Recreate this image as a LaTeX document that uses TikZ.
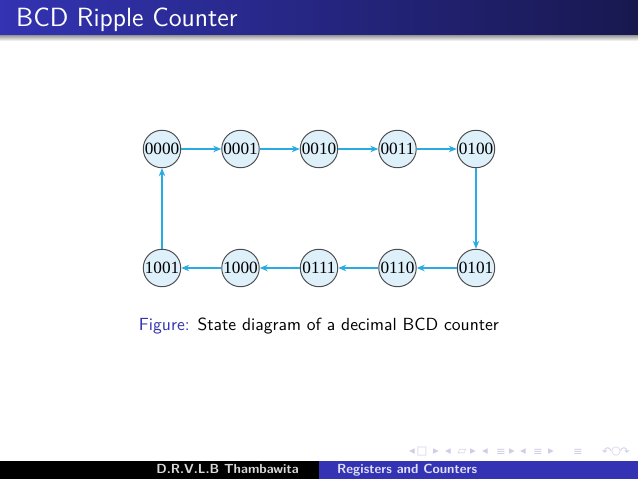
\documentclass[tikz,border=0pt]{standalone}
\usepackage{fontspec}
\newfontfamily\statefont{Liberation Serif}
\newfontfamily\symfont{DejaVu Sans}
\usetikzlibrary{positioning,arrows.meta}
\definecolor{beamerblue}{RGB}{51,51,179}
\definecolor{titledark}{RGB}{24,24,80}
\definecolor{statefill}{RGB}{222,240,250}
\definecolor{arrowblue}{RGB}{41,171,226}
\definecolor{navgray}{RGB}{205,205,230}
\begin{document}
\begin{tikzpicture}[x=0.2mm, y=-0.2mm, node distance=15.7mm,
  bcdstate/.style={circle, draw=black!70, fill=statefill, line width=0.55pt, minimum size=7.5mm, inner sep=0pt, font=\statefont\fontsize{9.8}{10}\selectfont},
  link/.style={draw=arrowblue, line width=0.6pt, -{Stealth[length=1.6mm, width=1.3mm]}},
  navsym/.style={text=navgray, inner sep=0pt, font=\symfont\fontsize{6.5}{7}\selectfont}]
\useasboundingbox (0,0) rectangle (638,479);

% Titelleiste
\shade[left color=beamerblue, right color=titledark] (0,0) rectangle (638,36);
\shade[top color=black!35, bottom color=white] (0,36) rectangle (638,41);
\node (title) [anchor=base west, text=white, font=\sffamily\fontsize{15}{18}\selectfont] at (10,27) {BCD Ripple Counter};

% Zustaende
\node (s0) [bcdstate] at (162,149) {0000};
\node (s1) [bcdstate, right of=s0] {0001};
\node (s2) [bcdstate, right of=s1] {0010};
\node (s3) [bcdstate, right of=s2] {0011};
\node (s4) [bcdstate, right of=s3] {0100};

\node (s5) [bcdstate, below of=s4, yshift=-8.1mm] {0101};
\node (s6) [bcdstate, left of=s5] {0110};
\node (s7) [bcdstate, left of=s6] {0111};
\node (s8) [bcdstate, left of=s7] {1000};
\node (s9) [bcdstate, left of=s8] {1001};

% Uebergaenge
\draw[link] (s0) -- (s1);
\draw[link] (s1) -- (s2);
\draw[link] (s2) -- (s3);
\draw[link] (s3) -- (s4);
\draw[link] (s4) -- (s5);
\draw[link] (s5) -- (s6);
\draw[link] (s6) -- (s7);
\draw[link] (s7) -- (s8);
\draw[link] (s8) -- (s9);
\draw[link] (s9) -- (s0);

% Bildunterschrift
\node (caption) [font=\sffamily] at (319,326) {\textcolor{beamerblue}{Figure:} State diagram of a decimal BCD counter};

% Navigationssymbole
\foreach \x/\s [count=\i] in {412/◂, 422/□, 436/▸, 448/◂, 462/▱, 473/▸, 485/◂, 501/≡, 512/▸,
  523/◂, 538/≡, 551/▸, 578/≡, 607/↶, 616/○, 625/↷}
  \node (nav\i) [navsym] at (\x,452) {\s};

% Fusszeile
\fill[black] (0,461) rectangle (319,479);
\fill[beamerblue] (319,461) rectangle (638,479);
\node (author) [anchor=base east, text=white!85!black, font=\sffamily\bfseries\fontsize{7.5}{8}\selectfont] at (305,474) {D.R.V.L.B Thambawita};
\node (topic) [anchor=base west, text=white!85!beamerblue, font=\sffamily\bfseries\fontsize{7.5}{8}\selectfont] at (331,474) {Registers and Counters};
\end{tikzpicture}
\end{document}
